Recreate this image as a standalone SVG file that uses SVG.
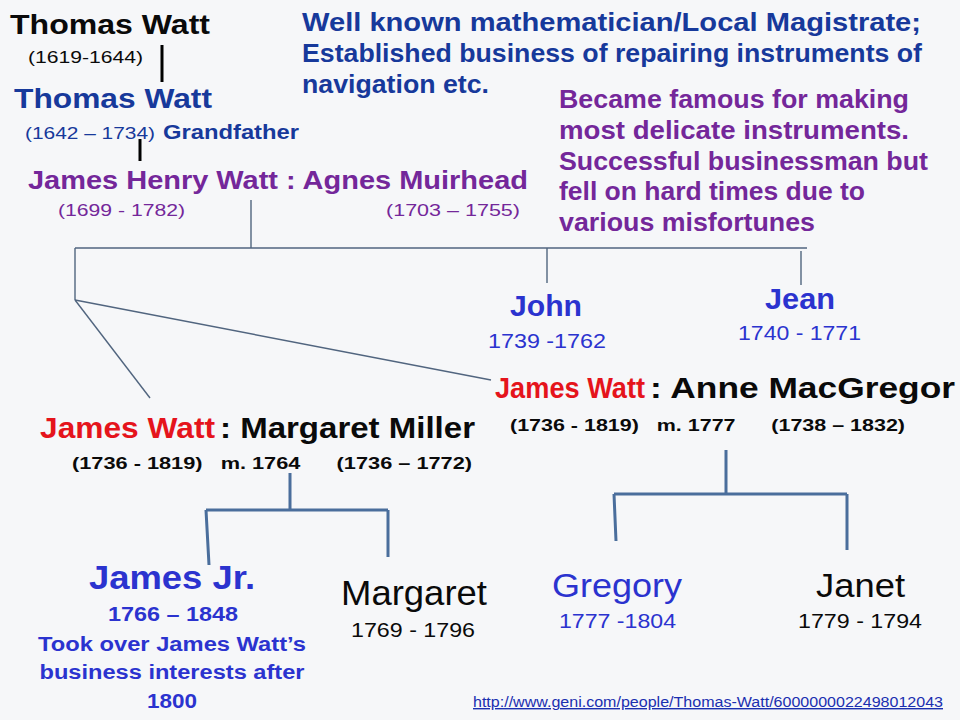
<svg xmlns="http://www.w3.org/2000/svg" width="960" height="720" viewBox="0 0 960 720">
<style>
text{font-family:"Liberation Sans",Arial,sans-serif}
.b{font-weight:bold}
.navy{fill:#17399b}
.pur{fill:#74279a}
.blue{fill:#2b33cf}
.red{fill:#e5141c}
.blk{fill:#0a0a0a}
.thin{stroke:#51657f;stroke-width:1.4;fill:none}
.thick{stroke:#4a6e9c;stroke-width:3;fill:none}
.bar{stroke:#000;stroke-width:3}
</style>
<rect width="960" height="720" fill="#f6f7f9"/>
<g id="connectors">
<line class="bar" x1="162" y1="45" x2="162" y2="82"/>
<line class="bar" x1="140" y1="139" x2="140" y2="161"/>
<line class="thin" x1="251" y1="200" x2="251" y2="248"/>
<line class="thin" x1="75" y1="248" x2="807" y2="248"/>
<line class="thin" x1="547" y1="248" x2="547" y2="283"/>
<line class="thin" x1="801" y1="251" x2="801" y2="285"/>
<line class="thin" x1="75" y1="248" x2="75" y2="300"/>
<line class="thin" x1="75" y1="300" x2="150" y2="398"/>
<line class="thin" x1="75" y1="300" x2="491" y2="380"/>
<path class="thick" d="M290 473V510M206 510H388M206 510L209 565M388 510V557"/>
<path class="thick" d="M726 450V494M614 494H847M614 494L616 541M847 494V550"/>
</g>
<g id="thomas1">
<text class="b blk" x="10" y="34" font-size="28" textLength="200" lengthAdjust="spacingAndGlyphs">Thomas Watt</text>
<text class="blk" x="28" y="63" font-size="16" textLength="115" lengthAdjust="spacingAndGlyphs">(1619-1644)</text>
</g>
<g id="thomas2">
<text class="b navy" x="14" y="108" font-size="28" textLength="198" lengthAdjust="spacingAndGlyphs">Thomas Watt</text>
<text class="navy" x="25" y="139" font-size="16" textLength="130" lengthAdjust="spacingAndGlyphs">(1642 – 1734)</text>
<text class="b navy" x="163" y="139" font-size="20" textLength="136" lengthAdjust="spacingAndGlyphs">Grandfather</text>
</g>
<g id="note1">
<text class="b navy" font-size="25"><tspan x="302" y="31" textLength="619" lengthAdjust="spacingAndGlyphs">Well known mathematician/Local Magistrate;</tspan><tspan x="302" y="62" textLength="620" lengthAdjust="spacingAndGlyphs">Established business of repairing instruments of</tspan><tspan x="302" y="93" textLength="187" lengthAdjust="spacingAndGlyphs">navigation etc.</tspan></text>
</g>
<g id="note2">
<text class="b pur" font-size="25"><tspan x="559" y="108" textLength="350" lengthAdjust="spacingAndGlyphs">Became famous for making</tspan><tspan x="559" y="139" textLength="350" lengthAdjust="spacingAndGlyphs">most delicate instruments.</tspan><tspan x="559" y="170" textLength="369" lengthAdjust="spacingAndGlyphs">Successful businessman but</tspan><tspan x="559" y="200" textLength="306" lengthAdjust="spacingAndGlyphs">fell on hard times due to</tspan><tspan x="559" y="231" textLength="256" lengthAdjust="spacingAndGlyphs">various misfortunes</tspan></text>
</g>
<g id="parents">
<text class="b pur" x="28" y="189" font-size="26" textLength="250" lengthAdjust="spacingAndGlyphs">James Henry Watt</text>
<text class="b pur" x="286" y="189" font-size="26" textLength="242" lengthAdjust="spacingAndGlyphs">: Agnes Muirhead</text>
<text class="pur" x="58" y="216" font-size="16" textLength="127" lengthAdjust="spacingAndGlyphs">(1699 - 1782)</text>
<text class="pur" x="386" y="216" font-size="16" textLength="134" lengthAdjust="spacingAndGlyphs">(1703 – 1755)</text>
</g>
<g id="john">
<text class="b blue" x="510" y="316" font-size="29" textLength="72" lengthAdjust="spacingAndGlyphs">John</text>
<text class="blue" x="488" y="348" font-size="21" textLength="118" lengthAdjust="spacingAndGlyphs">1739 -1762</text>
</g>
<g id="jean">
<text class="b blue" x="765" y="309" font-size="29" textLength="70" lengthAdjust="spacingAndGlyphs">Jean</text>
<text class="blue" x="738" y="340" font-size="21" textLength="123" lengthAdjust="spacingAndGlyphs">1740 - 1771</text>
</g>
<g id="watt-macgregor">
<text class="b red" x="495" y="398" font-size="30" textLength="150" lengthAdjust="spacingAndGlyphs">James Watt</text>
<text class="b blk" x="650" y="398" font-size="30" textLength="305" lengthAdjust="spacingAndGlyphs">: Anne MacGregor</text>
<text class="b blk" x="510" y="431" font-size="17" xml:space="preserve" textLength="395" lengthAdjust="spacingAndGlyphs">(1736 - 1819)   m. 1777      (1738 – 1832)</text>
</g>
<g id="watt-miller">
<text class="b red" x="40" y="438" font-size="30" textLength="175" lengthAdjust="spacingAndGlyphs">James Watt</text>
<text class="b blk" x="220" y="438" font-size="30" textLength="255" lengthAdjust="spacingAndGlyphs">: Margaret Miller</text>
<text class="b blk" x="72" y="469" font-size="17" xml:space="preserve" textLength="400" lengthAdjust="spacingAndGlyphs">(1736 - 1819)   m. 1764      (1736 – 1772)</text>
</g>
<g id="james-jr">
<text class="b blue" x="172" y="589" font-size="33" text-anchor="middle" textLength="166" lengthAdjust="spacingAndGlyphs">James Jr.</text>
<text class="b blue" x="173" y="621" font-size="20" text-anchor="middle" textLength="130" lengthAdjust="spacingAndGlyphs">1766 – 1848</text>
<text class="b blue" x="172" y="651" font-size="20" text-anchor="middle" textLength="268" lengthAdjust="spacingAndGlyphs">Took over James Watt’s</text>
<text class="b blue" x="172" y="679" font-size="20" text-anchor="middle" textLength="265" lengthAdjust="spacingAndGlyphs">business interests after</text>
<text class="b blue" x="172" y="708" font-size="20" text-anchor="middle" textLength="50" lengthAdjust="spacingAndGlyphs">1800</text>
</g>
<g id="margaret">
<text class="blk" x="341" y="605" font-size="35" textLength="146" lengthAdjust="spacingAndGlyphs">Margaret</text>
<text class="blk" x="351" y="637" font-size="20" textLength="124" lengthAdjust="spacingAndGlyphs">1769 - 1796</text>
</g>
<g id="gregory">
<text class="blue" x="552" y="597" font-size="33" textLength="130" lengthAdjust="spacingAndGlyphs">Gregory</text>
<text class="blue" x="559" y="628" font-size="20" textLength="117" lengthAdjust="spacingAndGlyphs">1777 -1804</text>
</g>
<g id="janet">
<text class="blk" x="816" y="597" font-size="33" textLength="89" lengthAdjust="spacingAndGlyphs">Janet</text>
<text class="blk" x="798" y="628" font-size="20" textLength="124" lengthAdjust="spacingAndGlyphs">1779 - 1794</text>
</g>
<g id="source">
<text x="473" y="707" font-size="14" fill="#1a2fb0" text-decoration="underline" textLength="470" lengthAdjust="spacingAndGlyphs">http://www.geni.com/people/Thomas-Watt/6000000022498012043</text>
</g>
</svg>
